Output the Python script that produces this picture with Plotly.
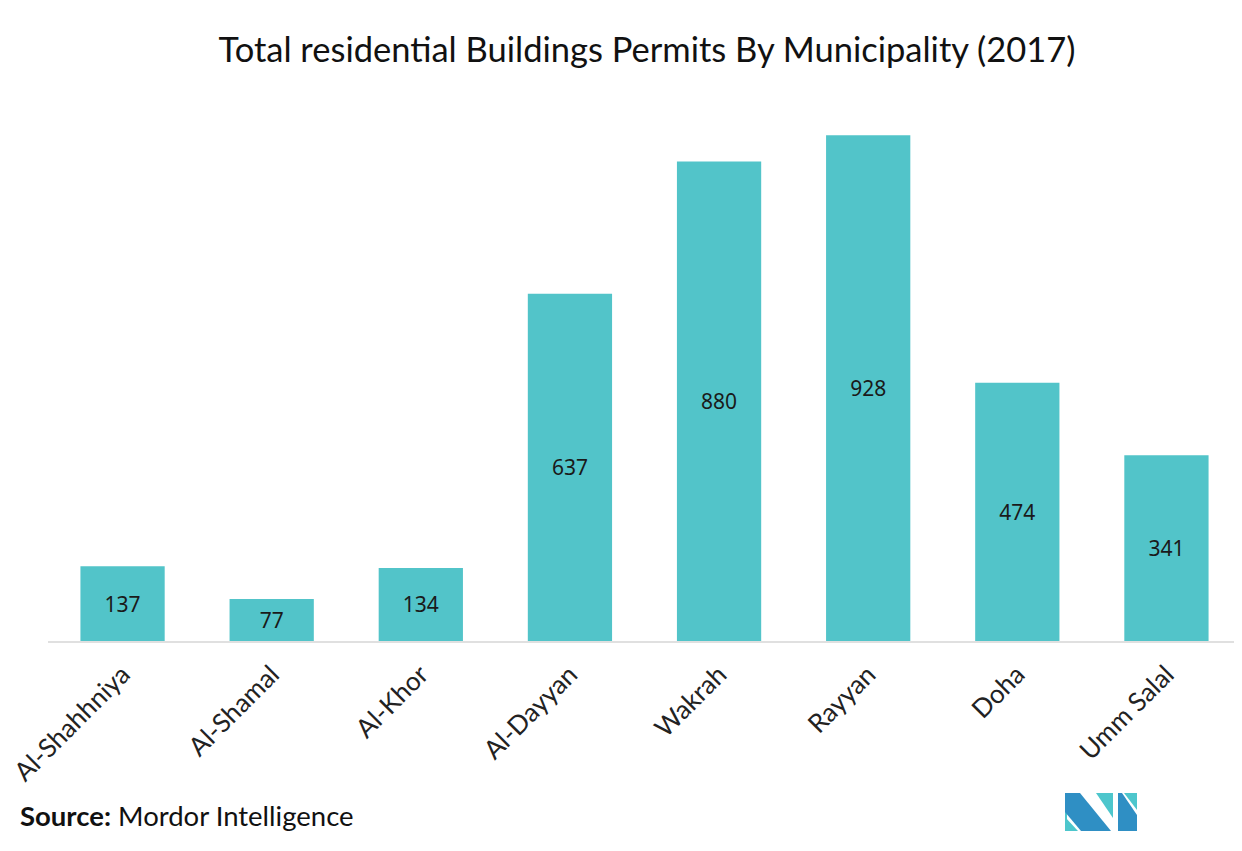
import plotly.graph_objects as go

categories = ["Al-Shahhniya", "Al-Shamal", "Al-Khor", "Al-Dayyan", "Wakrah", "Rayyan", "Doha", "Umm Salal"]
permits = [137, 77, 134, 637, 880, 928, 474, 341]

title_text = "Total residential Buildings Permits By Municipality (2017)"
source_label = "<b>Source:</b> Mordor Intelligence"

OFF = 8  # page body margin offset
W, H = 1242 - OFF, 851 - OFF
ml, mr, mt, mb = 48 - OFF, 1, 96 - OFF, 851 - 641

fig = go.Figure()
fig.add_trace(go.Bar(
    x=categories, y=permits,
    marker=dict(color="#52c4c9", line=dict(width=0)),
    text=[str(v) for v in permits],
    textposition="inside", insidetextanchor="middle",
    textfont=dict(family="Noto Sans", size=21, color="#1a1a1a"),
    textangle=0,
    width=0.565,
))

fig.update_layout(
    width=W, height=H,
    margin=dict(l=ml, r=mr, t=mt, b=mb, autoexpand=False),
    paper_bgcolor="white", plot_bgcolor="white",
    showlegend=False,
    uniformtext=dict(mode="show", minsize=10),
    title=dict(text=title_text, x=(647 - OFF) / W, xanchor="center", y=1 - (50 - OFF) / H, yanchor="middle",
               font=dict(family="Lato", size=34.5, color="#111111")),
    xaxis=dict(
        showline=True, linecolor="#e0e0e0", linewidth=2,
        showgrid=False, zeroline=False, ticks="",
        tickangle=-45, tickfont=dict(family="Lato", size=26, color="#222222"),
        ticklabelstandoff=6,
        range=[-0.5, 7.5],
    ),
    yaxis=dict(visible=False, range=[0, 1000], showgrid=False, zeroline=False),
    font=dict(family="Lato"),
)

def px(x):
    return (x - OFF - ml) / (W - ml - mr)

def py(y):
    return (H - mb - (y - OFF)) / (H - mt - mb)

fig.add_annotation(
    text=source_label, xref="paper", yref="paper",
    x=px(18), y=py(815),
    xanchor="left", yanchor="middle", showarrow=False,
    font=dict(family="Lato", size=27.5, color="#111111"),
)

def poly(points, color):
    d = "M " + " L ".join(f"{px(x)},{py(y)}" for x, y in points) + " Z"
    fig.add_shape(type="path", path=d, xref="paper", yref="paper",
                  fillcolor=color, line=dict(width=0), layer="above")

dark = "#2f8fc4"
light = "#4dc6cc"
top, bot = 793, 831
poly([(1065, top), (1067, top), (1067, bot), (1065, bot)], light)
poly([(1065, top), (1080, top), (1111, bot), (1081, bot), (1065, 812)], dark)
poly([(1065, 817), (1078, bot), (1065, bot)], light)
poly([(1096, top), (1113, top), (1113, 818)], light)
poly([(1118, top), (1122, top), (1137, 815), (1137, bot), (1118, bot)], dark)
poly([(1124, top), (1137, top), (1137, 810)], light)

fig.write_html("out.html")
